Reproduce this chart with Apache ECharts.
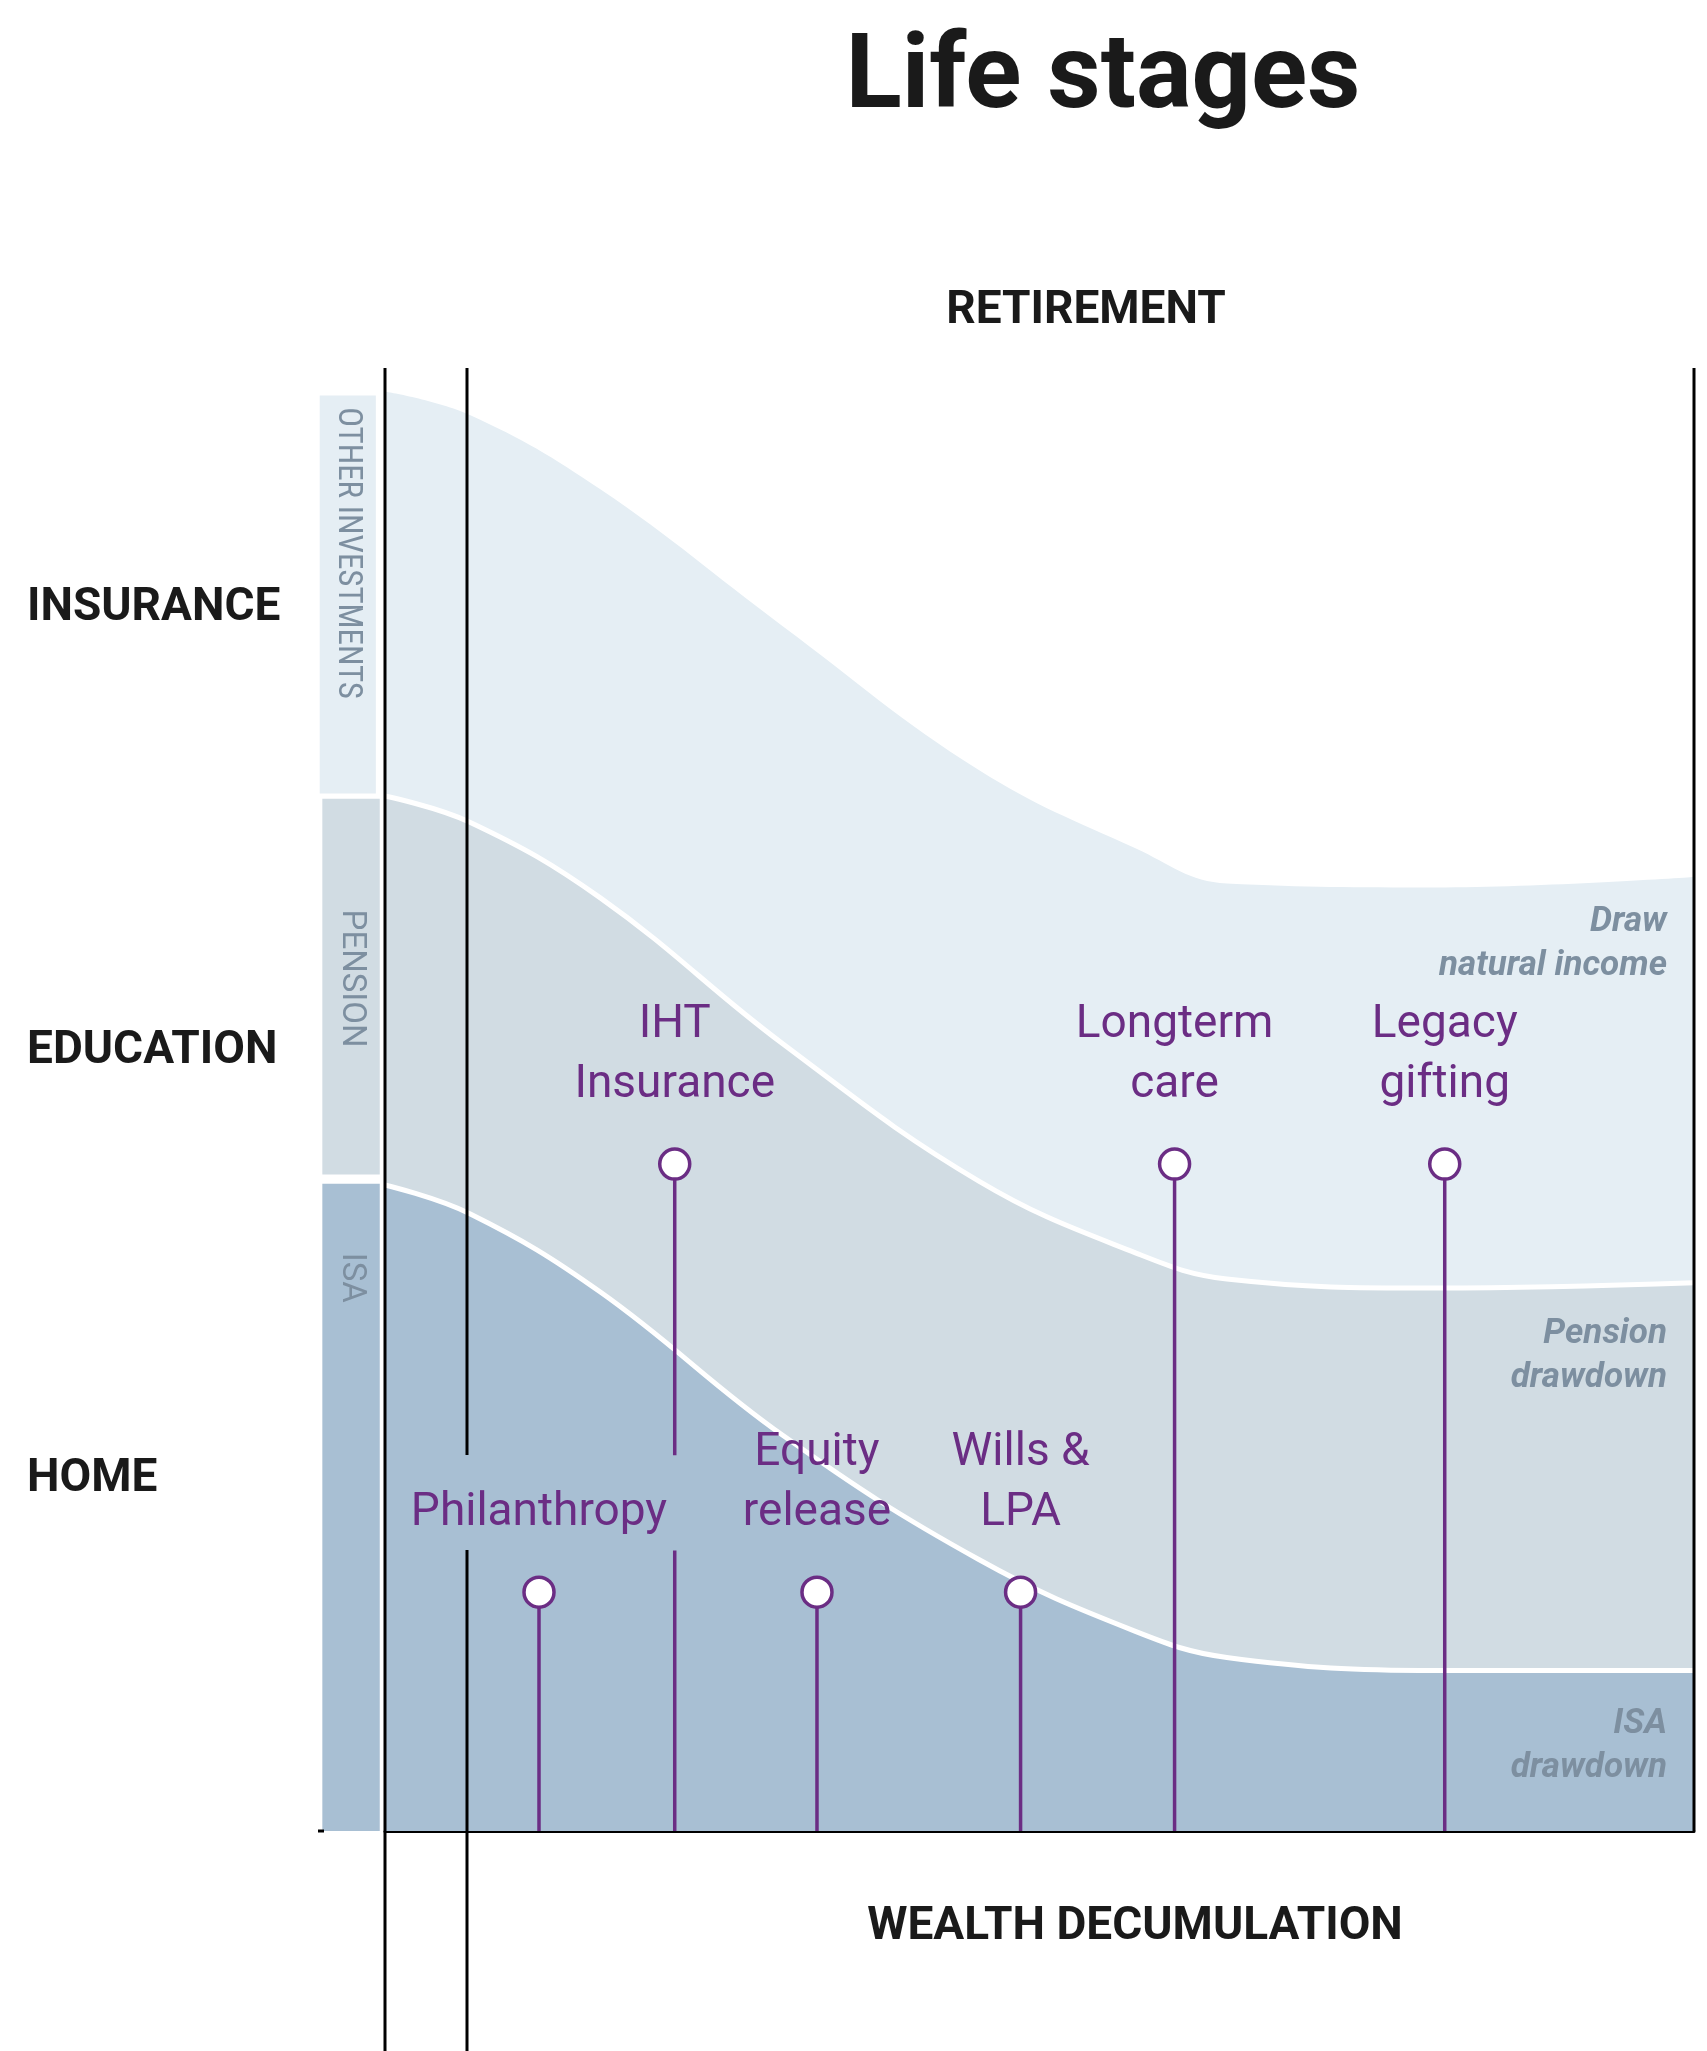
<!DOCTYPE html>
<html><head><meta charset="utf-8">
<script src="https://cdn.jsdelivr.net/npm/echarts@6/dist/echarts.min.js"></script>
<style>html,body{margin:0;padding:0;background:#fff}#c{width:1707px;height:2051px}</style>
</head><body><div id="c"></div>
<script>
// x positions and heights above the baseline (chart units)
const curveX = [295, 360, 460, 600, 750, 870, 940, 1100, 1298];
const otherTop = [1103, 1085, 1028, 923, 813, 753, 726, 723, 731];
const pensionTop = [793, 773, 715, 603, 498, 443, 423, 416, 420];
const isaTop = [495, 473, 413, 303, 208, 153, 133, 123, 123];

const pinNames = ['IHT\nInsurance', 'Longterm\ncare', 'Legacy\ngifting', 'Philanthropy', 'Equity\nrelease', 'Wills &\nLPA'];
const pinX = [517, 900, 1107, 413, 626, 782];
const pinH = [511, 511, 511, 183, 183, 183];

const purple = '#6b2d84';
const chart = echarts.init(document.getElementById('c'));

const toPts = (ys) => curveX.map((x, i) => [x, ys[i]]);

const series = [
  { type: 'line', data: toPts(otherTop), smooth: 0.4, symbol: 'none', lineStyle: { width: 0 },
    areaStyle: { color: '#e5eef4', opacity: 1 }, z: 1 },
  { type: 'line', data: toPts(pensionTop), smooth: 0.4, symbol: 'none', lineStyle: { width: 5, color: '#fff' },
    areaStyle: { color: '#d1dce3', opacity: 1 }, z: 2 },
  { type: 'line', data: toPts(isaTop), smooth: 0.4, symbol: 'none', lineStyle: { width: 5, color: '#fff' },
    areaStyle: { color: '#a8bfd3', opacity: 1 }, z: 3 }
];

// pin stems
pinX.forEach((x, i) => {
  const segs = (i === 0) ? [[[x, 0], [x, 215]], [[x, 288], [x, pinH[i]]]] : [[[x, 0], [x, pinH[i]]]];
  segs.forEach(s => series.push({ type: 'line', data: s, symbol: 'none', silent: true,
    lineStyle: { color: purple, width: 3.5 }, z: 5 }));
});

series.push({
  type: 'scatter', z: 6, symbol: 'circle', symbolSize: 30,
  itemStyle: { color: '#fff', borderColor: purple, borderWidth: 3.5, opacity: 1 },
  data: pinX.map((x, i) => ({ value: [x, pinH[i]], name: pinNames[i] })),
  label: { show: true, position: 'top', distance: 32, formatter: p => p.name, color: purple,
    fontFamily: 'Roboto', fontSize: 46, lineHeight: 60, align: 'center' }
});

const dark = '#1a1a1a';
const grey = '#7d8fa0';
const F = 1.305;
const gText = (x, y, text, style) => ({ type: 'text', x, y, z: 20,
  style: Object.assign({ text, fontFamily: 'Roboto', fill: dark }, style) });
const vline = (x, y1, y2) => ({ type: 'line', z: 20, shape: { x1: x, y1, x2: x, y2 }, style: { stroke: '#000', lineWidth: 3 } });
const rect = (x, y, w, h, c) => ({ type: 'rect', z: 0, shape: { x, y, width: w, height: h }, style: { fill: c } });

chart.setOption({
  animation: false,
  grid: { left: 385, right: 13, top: 368, bottom: 220 },
  xAxis: { type: 'value', min: 295, max: 1298, show: true, axisLabel: { show: false }, axisTick: { show: false },
    splitLine: { show: false }, axisLine: { lineStyle: { color: '#000', width: 3 } } },
  yAxis: { type: 'value', min: 0, max: 1121, show: false },
  series,
  graphic: [
    rect(245 * F, 303 * F, 43 * F, 305 * F, '#e5eef4'),
    rect(247 * F, 612 * F, 44 * F, 288 * F, '#d1dce3'),
    rect(247 * F, 907 * F, 44 * F, 496 * F, '#a8bfd3'),
    gText(1103, 81, 'Life stages', { fontSize: 104, fontWeight: 'bold', align: 'center', verticalAlign: 'middle' }),
    gText(1086, 311, 'RETIREMENT', { fontSize: 46, fontWeight: 'bold', align: 'center', verticalAlign: 'middle' }),
    gText(1135, 1927, 'WEALTH DECUMULATION', { fontSize: 46, fontWeight: 'bold', align: 'center', verticalAlign: 'middle' }),
    gText(27, 466 * F, 'INSURANCE', { fontSize: 46, fontWeight: 'bold', verticalAlign: 'middle' }),
    gText(27, 806 * F, 'EDUCATION', { fontSize: 46, fontWeight: 'bold', verticalAlign: 'middle' }),
    gText(27, 1134 * F, 'HOME', { fontSize: 46, fontWeight: 'bold', verticalAlign: 'middle' }),
    Object.assign(gText(266 * F, 312 * F, 'OTHER INVESTMENTS', { fontSize: 33, fill: grey, fontFamily: 'Roboto Condensed, Roboto', verticalAlign: 'middle' }), { rotation: -Math.PI / 2 }),
    Object.assign(gText(269 * F, 697 * F, 'PENSION', { fontSize: 33, fill: grey, verticalAlign: 'middle' }), { rotation: -Math.PI / 2 }),
    Object.assign(gText(269 * F, 960 * F, 'ISA', { fontSize: 33, fill: grey, verticalAlign: 'middle' }), { rotation: -Math.PI / 2 }),
    gText(1667, 900, 'Draw\nnatural income', { fontSize: 35, fontStyle: 'italic', fontWeight: 'bold', fill: grey, align: 'right', lineHeight: 44 }),
    gText(1667, 1312, 'Pension\ndrawdown', { fontSize: 35, fontStyle: 'italic', fontWeight: 'bold', fill: grey, align: 'right', lineHeight: 44 }),
    gText(1667, 1702, 'ISA\ndrawdown', { fontSize: 35, fontStyle: 'italic', fontWeight: 'bold', fill: grey, align: 'right', lineHeight: 44 }),
    vline(385, 368, 2051),
    vline(467, 368, 1455),
    vline(467, 1550, 2051),
    vline(1694, 368, 1831),
    { type: 'line', z: 20, shape: { x1: 318, y1: 1831, x2: 324, y2: 1831 }, style: { stroke: '#000', lineWidth: 3 } }
  ]
});
</script></body></html>
